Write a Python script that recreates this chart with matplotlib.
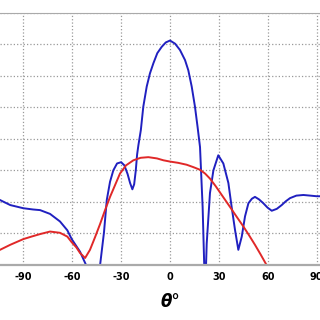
import numpy as np
import matplotlib
matplotlib.use('Agg')
import matplotlib.pyplot as plt

plt.rcParams['axes.unicode_minus'] = False

# blue pattern (angle in deg, level in dB)
blue_theta = [-104.3, -98, -90, -84, -79.7, -73.6, -67.5, -63, -60.3, -55.2, -51, -48,
              -45, -42.9, -40.5, -38.8, -36.8, -34.8, -32.5, -30.0, -28, -26, -24.5, -23.1,
              -22, -21, -20.2, -19.4, -17.9, -16.4, -14.3, -12.3, -10.2, -7.8, -5.1, -2.6, 0,
              3.1, 6.1, 9.2, 11.2, 13.3, 15.3, 16.9, 18.4, 20.0, 21.5,
              22.5, 24.5, 26.6, 29.6, 32.7, 35.8, 37.8, 39.9, 41.9,
              44.0, 46.0, 48.1, 50.2, 52.1, 54.6, 57.2, 59.8, 62.4, 65.5, 68.5,
              71, 73.6, 77.5, 81.8, 86, 90, 92]
blue_db = [-29.7, -30.5, -31.0, -31.2, -31.3, -31.9, -33.1, -34.5, -35.9, -37.9, -40.3, -45,
           -45, -40, -34.8, -29.7, -26.8, -25, -23.9, -23.7, -24.2, -25.6, -27.0, -28.0,
           -27.2, -25.0, -22.5, -21.0, -18.6, -14.9, -11.7, -9.6, -8.0, -6.4, -5.4, -4.7, -4.4,
           -4.9, -5.9, -7.5, -9.1, -11.7, -14.9, -18.1, -21.3, -30.8, -45,
           -36.6, -28.6, -25.0, -22.6, -23.9, -27.0, -30.8, -34.5, -37.6,
           -35.5, -32.3, -30.2, -29.5, -29.2, -29.6, -30.2, -30.9, -31.4, -31.1, -30.5,
           -29.9, -29.4, -29.0, -28.9, -29.0, -29.1, -29.1]

# red pattern
red_theta = [-104.3, -98, -90, -85, -79.7, -73.6, -67.5, -63, -60.3, -57.5, -55.2, -52.1,
             -49.1, -46, -42.9, -40, -36.8, -33.5, -30.7, -27, -22.5, -18, -13.3, -8,
             -4, 0, 5, 10.2, 14.5, 18.4, 21.5, 24.5, 28, 32, 36.8, 41,
             45, 48.5, 52.1, 55.5, 59.2]
red_db = [-37.6, -36.8, -35.9, -35.5, -35.1, -34.7, -34.9, -35.5, -36.4, -37.2, -38.1, -38.9,
          -37.6, -35.6, -33.5, -31.4, -29.2, -27.2, -25.5, -24.2, -23.4, -23.0, -22.9, -23.1,
          -23.4, -23.6, -23.8, -24.1, -24.5, -24.9, -25.5, -26.3, -27.5, -29.0, -30.8, -32.4,
          -33.9, -35.3, -36.8, -38.3, -40.0]

xticks = [-90, -60, -30, 0, 30, 60, 90]
yticks = [-40, -35, -30, -25, -20, -15, -10, -5, 0]

fig = plt.figure(figsize=(3.2, 3.2), dpi=100)
ax = fig.add_axes([0.0, 0.172, 1.0, 0.788])

ax.plot(blue_theta, blue_db, color='#2020c0', lw=1.4)
ax.plot(red_theta, red_db, color='#e02828', lw=1.4)

ax.set_xlim(-104.3, 92.0)
ax.set_ylim(-40, 0)
ax.set_xticks(xticks)
ax.set_yticks(yticks)
ax.set_yticklabels([])
ax.tick_params(axis='both', length=0)
ax.tick_params(axis='x', pad=5, labelsize=7)
for lab in ax.get_xticklabels():
    lab.set_fontweight('bold')
ax.grid(True, color='#999999', linestyle=':', linewidth=0.9)

ax.spines['left'].set_visible(False)
ax.spines['right'].set_visible(False)
ax.spines['top'].set_color('#aaaaaa')
ax.spines['bottom'].set_color('#aaaaaa')
ax.spines['bottom'].set_linewidth(1.6)

fig.text(170 / 320, 1 - 301.7 / 320, 'θ°', ha='center', va='center',
         fontsize=12, fontweight='bold', style='italic')

fig.savefig('out.png', dpi=100)
